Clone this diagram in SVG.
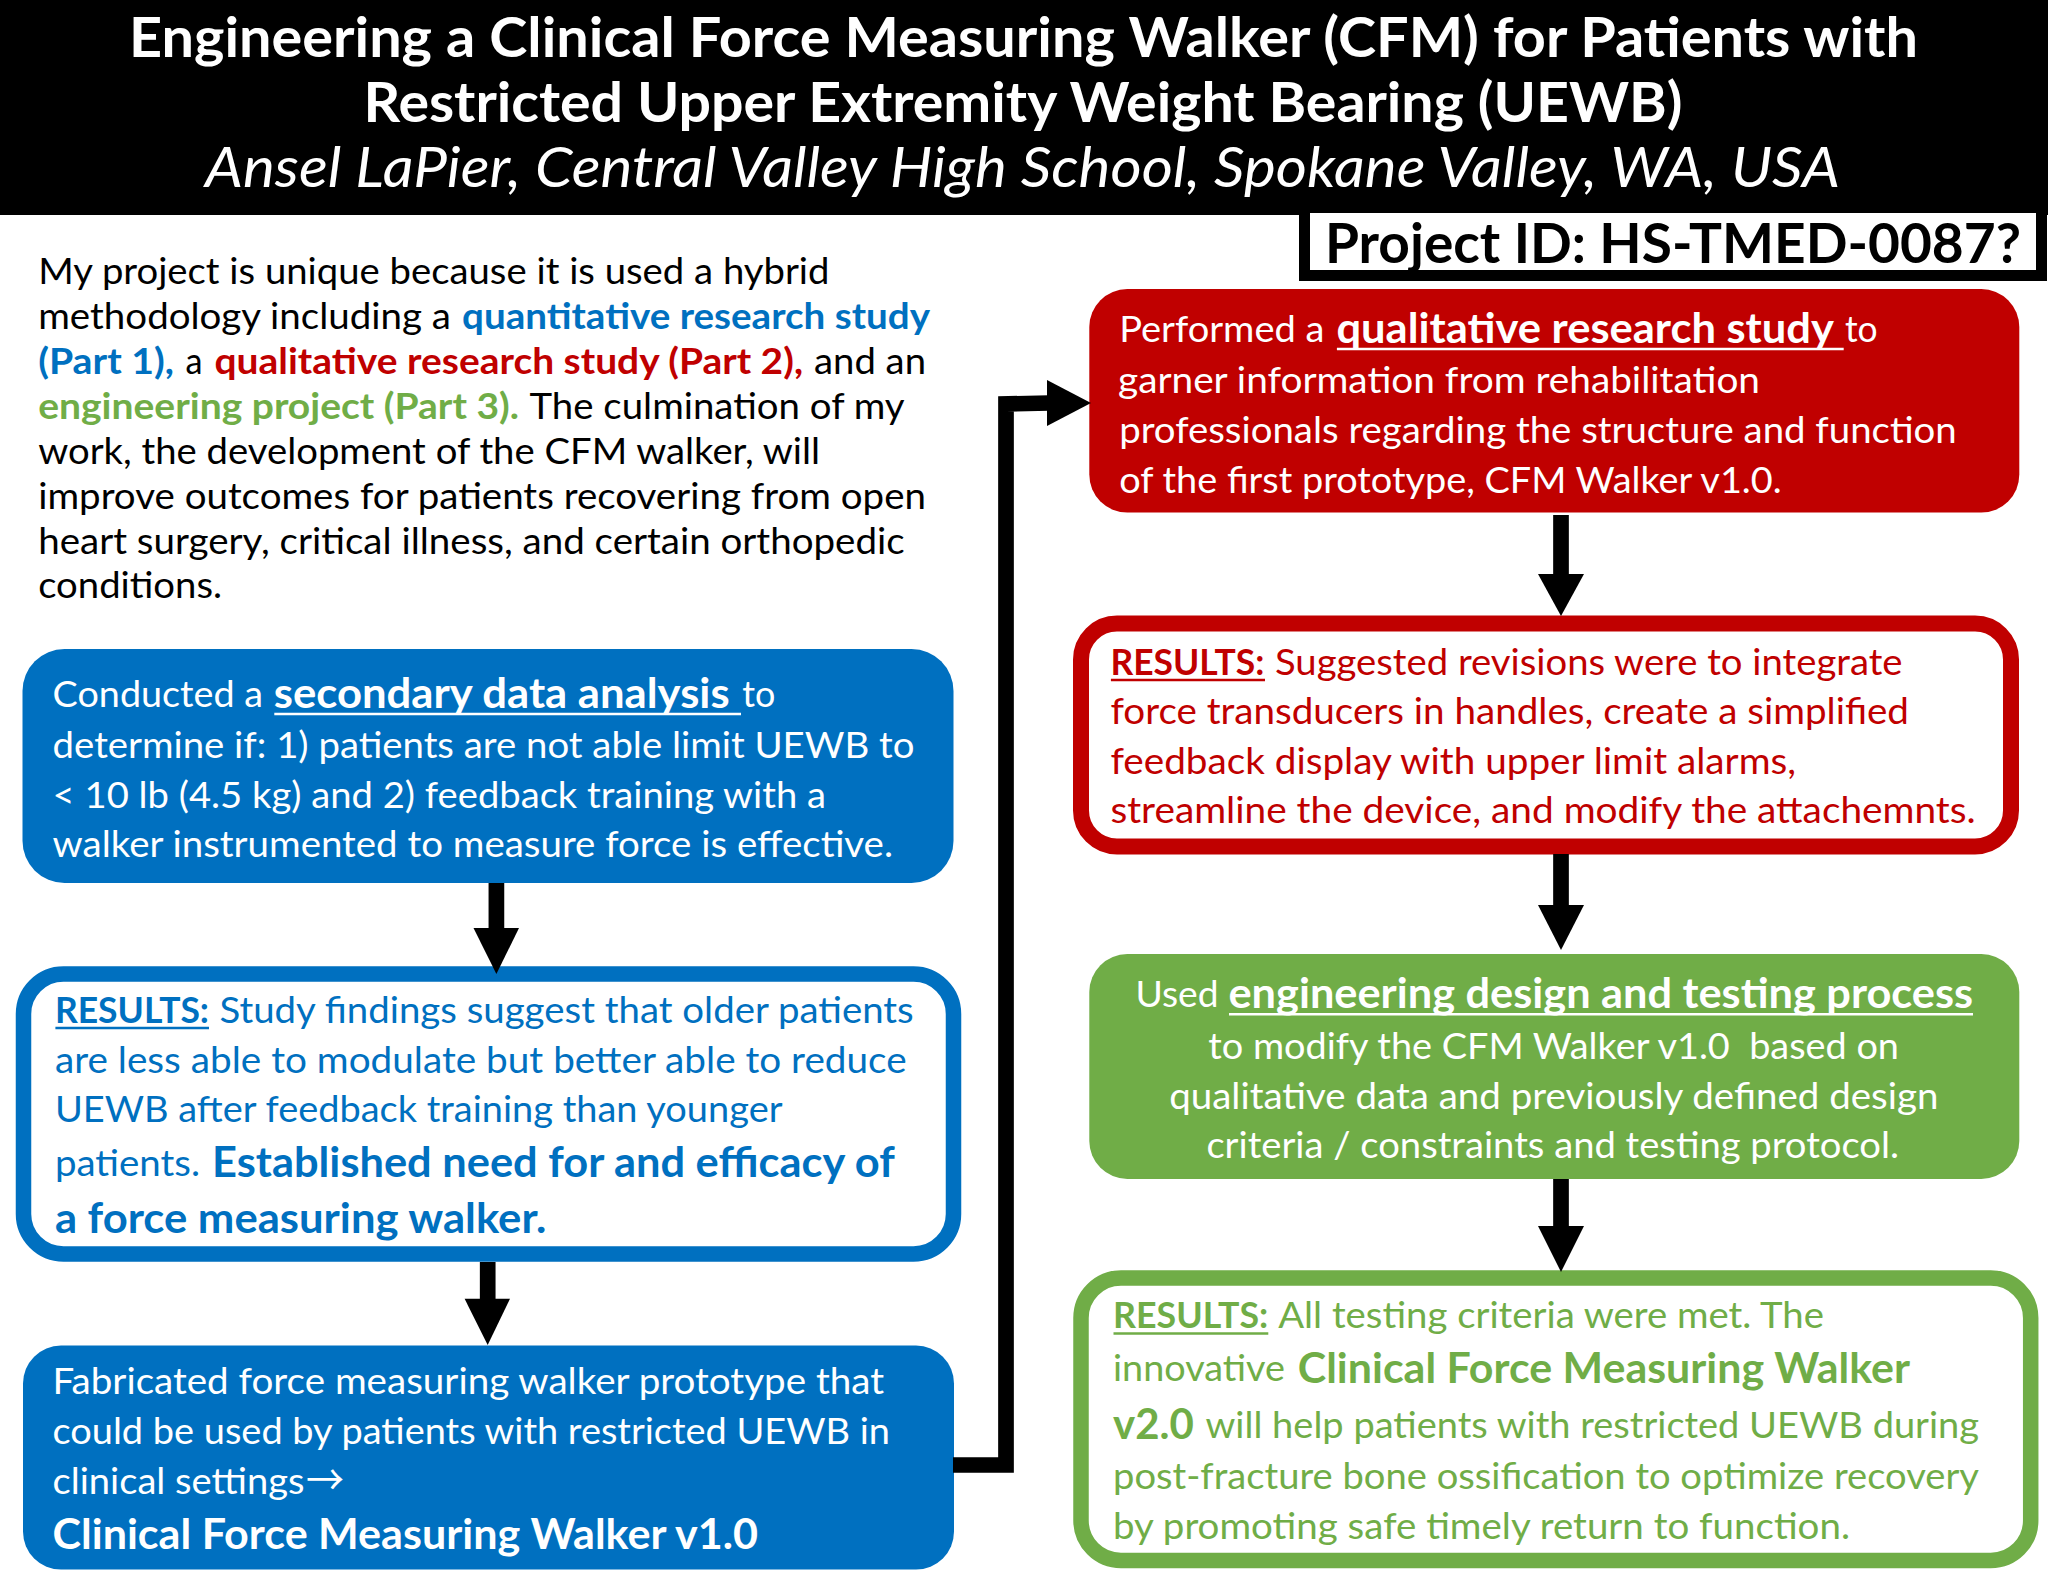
<svg xmlns="http://www.w3.org/2000/svg" width="2048" height="1582" viewBox="0 0 2048 1582">
<style>
text{font-family:Lato,"Liberation Sans",sans-serif;font-size:37px;fill:#000}
.b{font-weight:700;font-size:42px;transform:translateY(1px)}
.t{font-weight:700;font-size:56px;fill:#fff;transform:translateY(1.5px)}
.i{font-style:italic;font-size:56px;fill:#fff;transform:translateY(1px)}
.w{fill:#fff}.bl{fill:#0070C0}.r{fill:#C00000}.g{fill:#70AD47}
.ib{font-weight:700;font-size:37px}
.sym{font-family:"Noto Sans CJK SC",sans-serif;font-size:42px}
.ulw{stroke:#fff;stroke-width:2.6}.ulb{stroke:#0070C0;stroke-width:2.6}.ulr{stroke:#C00000;stroke-width:2.6}.ulg{stroke:#70AD47;stroke-width:2.6}
.shaft{fill:none;stroke:#000;stroke-width:15.7;stroke-linejoin:miter}
</style>
<rect width="2048" height="1582" fill="#fff"/>
<g id="header">
<rect width="2048" height="215" fill="#000"/>
<text class="t" x="129" y="55" textLength="1789" lengthAdjust="spacingAndGlyphs">Engineering a Clinical Force Measuring Walker (CFM) for Patients with</text>
<text class="t" x="363.5" y="120" textLength="1319" lengthAdjust="spacingAndGlyphs">Restricted Upper Extremity Weight Bearing (UEWB)</text>
<text class="i" x="205" y="186" textLength="1635" lengthAdjust="spacingAndGlyphs">Ansel LaPier, Central Valley High School, Spokane Valley, WA, USA</text>
</g>
<g id="project-id">
<rect x="1299" y="212" width="748" height="69" fill="#000"/>
<rect x="1310" y="213" width="726" height="57" fill="#fff"/>
<text class="t" style="fill:#000" x="1325" y="261" textLength="696" lengthAdjust="spacingAndGlyphs">Project ID: HS-TMED-0087?</text>
</g>
<g id="intro">
<text x="38.2" y="284" textLength="791.3" lengthAdjust="spacingAndGlyphs">My project is unique because it is used a hybrid</text>
<text x="38.2" y="329" textLength="412.8" lengthAdjust="spacingAndGlyphs">methodology including a</text>
<text class="ib bl" x="462" y="329" textLength="468" lengthAdjust="spacingAndGlyphs">quantitative research study</text>
<text class="ib bl" x="38.2" y="374" textLength="135.8" lengthAdjust="spacingAndGlyphs">(Part 1),</text>
<text x="185.5" y="374" textLength="17" lengthAdjust="spacingAndGlyphs">a</text>
<text class="ib r" x="214.5" y="374" textLength="588.5" lengthAdjust="spacingAndGlyphs">qualitative research study (Part 2),</text>
<text x="814" y="374" textLength="112" lengthAdjust="spacingAndGlyphs">and an</text>
<text class="ib g" x="38.2" y="418.5" textLength="480.8" lengthAdjust="spacingAndGlyphs">engineering project (Part 3).</text>
<text x="529.5" y="418.5" textLength="375.1" lengthAdjust="spacingAndGlyphs">The culmination of my</text>
<text x="38.2" y="463.5" textLength="781.8" lengthAdjust="spacingAndGlyphs">work, the development of the CFM walker, will</text>
<text x="38.2" y="508.5" textLength="887.8" lengthAdjust="spacingAndGlyphs">improve outcomes for patients recovering from open</text>
<text x="38.2" y="553.5" textLength="866.4" lengthAdjust="spacingAndGlyphs">heart surgery, critical illness, and certain orthopedic</text>
<text x="38.2" y="597.5" textLength="183.8" lengthAdjust="spacingAndGlyphs">conditions.</text>
</g>
<g id="n1">
<rect class="bl" x="22.5" y="649" width="931" height="234" rx="42"/>
<text class="w" x="52.6" y="707" textLength="210.4" lengthAdjust="spacingAndGlyphs">Conducted a</text>
<text class="b w" x="273.8" y="707" textLength="455.8" lengthAdjust="spacingAndGlyphs">secondary data analysis</text>
<line class="ulw" x1="274.3" y1="714" x2="741" y2="714"/>
<text class="w" x="742.2" y="707" textLength="33.1" lengthAdjust="spacingAndGlyphs">to</text>
<text class="w" x="52.6" y="757.5" textLength="861.8" lengthAdjust="spacingAndGlyphs">determine if: 1) patients are not able limit UEWB to</text>
<text class="w" x="52.6" y="807.5" textLength="773.4" lengthAdjust="spacingAndGlyphs">&lt; 10 lb (4.5 kg) and 2) feedback training with a</text>
<text class="w" x="52.6" y="857" textLength="840.4" lengthAdjust="spacingAndGlyphs">walker instrumented to measure force is effective.</text>
</g>
<g id="n2">
<rect x="23.5" y="974" width="930" height="280" rx="40" fill="#fff" stroke="#0070C0" stroke-width="15.5"/>
<text class="ib bl" x="54.9" y="1023" textLength="154.1" lengthAdjust="spacingAndGlyphs">RESULTS:</text>
<line class="ulb" x1="55.4" y1="1028" x2="209" y2="1028"/>
<text class="bl" x="219.5" y="1023" textLength="694.2" lengthAdjust="spacingAndGlyphs">Study findings suggest that older patients</text>
<text class="bl" x="54.9" y="1072.6" textLength="851.8" lengthAdjust="spacingAndGlyphs">are less able to modulate but better able to reduce</text>
<text class="bl" x="54.9" y="1121.7" textLength="727.6" lengthAdjust="spacingAndGlyphs">UEWB after feedback training than younger</text>
<text class="bl" x="54.9" y="1176" textLength="145.1" lengthAdjust="spacingAndGlyphs">patients.</text>
<text class="b bl" x="212.1" y="1176" textLength="682.6" lengthAdjust="spacingAndGlyphs">Established need for and efficacy of</text>
<text class="b bl" x="54.9" y="1232" textLength="491.4" lengthAdjust="spacingAndGlyphs">a force measuring walker.</text>
</g>
<g id="n3">
<rect class="bl" x="23" y="1345.6" width="931" height="224" rx="38"/>
<text class="w" x="52.5" y="1393.5" textLength="831.5" lengthAdjust="spacingAndGlyphs">Fabricated force measuring walker prototype that</text>
<text class="w" x="52.5" y="1443.5" textLength="837.5" lengthAdjust="spacingAndGlyphs">could be used by patients with restricted UEWB in</text>
<text class="w" x="52.5" y="1493.5" textLength="252" lengthAdjust="spacingAndGlyphs">clinical settings</text>
<text class="w sym" x="306" y="1495" textLength="38" lengthAdjust="spacingAndGlyphs">→</text>
<text class="b w" x="52.5" y="1547.8" textLength="705.5" lengthAdjust="spacingAndGlyphs">Clinical Force Measuring Walker v1.0</text>
</g>
<g id="n4">
<rect class="r" x="1089.3" y="289" width="930" height="223.6" rx="38"/>
<text class="w" x="1119.2" y="341.5" textLength="205.3" lengthAdjust="spacingAndGlyphs">Performed a</text>
<text class="b w" x="1336.4" y="341.5" textLength="497.6" lengthAdjust="spacingAndGlyphs">qualitative research study</text>
<line class="ulw" x1="1336.9" y1="349" x2="1843.7" y2="349"/>
<text class="w" x="1845" y="341.5" textLength="32.7" lengthAdjust="spacingAndGlyphs">to</text>
<text class="w" x="1118" y="392.8" textLength="642" lengthAdjust="spacingAndGlyphs">garner information from rehabilitation</text>
<text class="w" x="1119.2" y="442.5" textLength="837.5" lengthAdjust="spacingAndGlyphs">professionals regarding the structure and function</text>
<text class="w" x="1119.2" y="492.5" textLength="662.5" lengthAdjust="spacingAndGlyphs">of the first prototype, CFM Walker v1.0.</text>
</g>
<g id="n5">
<rect x="1081" y="623.5" width="930" height="223" rx="36" fill="#fff" stroke="#C00000" stroke-width="16"/>
<text class="ib r" x="1110.4" y="674.5" textLength="154" lengthAdjust="spacingAndGlyphs">RESULTS:</text>
<line class="ulr" x1="1110.9" y1="680" x2="1265" y2="680"/>
<text class="r" x="1275" y="674.5" textLength="627.5" lengthAdjust="spacingAndGlyphs">Suggested revisions were to integrate</text>
<text class="r" x="1110.4" y="723.8" textLength="798.6" lengthAdjust="spacingAndGlyphs">force transducers in handles, create a simplified</text>
<text class="r" x="1110.4" y="773.8" textLength="685.6" lengthAdjust="spacingAndGlyphs">feedback display with upper limit alarms,</text>
<text class="r" x="1110.4" y="823.2" textLength="865.3" lengthAdjust="spacingAndGlyphs">streamline the device, and modify the attachemnts.</text>
</g>
<g id="n6">
<rect class="g" x="1089.3" y="954" width="930" height="225" rx="38"/>
<text class="w" x="1135.5" y="1006.5" textLength="83.1" lengthAdjust="spacingAndGlyphs">Used</text>
<text class="b w" x="1228.5" y="1006.5" textLength="744.5" lengthAdjust="spacingAndGlyphs">engineering design and testing process</text>
<line class="ulw" x1="1229" y1="1014.3" x2="1973" y2="1014.3"/>
<text class="w" x="1208.3" y="1058.7" textLength="690.7" lengthAdjust="spacingAndGlyphs" xml:space="preserve">to modify the CFM Walker v1.0  based on</text>
<text class="w" x="1169.2" y="1108.7" textLength="769.2" lengthAdjust="spacingAndGlyphs">qualitative data and previously defined design</text>
<text class="w" x="1206.4" y="1157.8" textLength="692.6" lengthAdjust="spacingAndGlyphs">criteria / constraints and testing protocol.</text>
</g>
<g id="n7">
<rect x="1081" y="1278" width="949.7" height="282.5" rx="40" fill="#fff" stroke="#70AD47" stroke-width="15.5"/>
<text class="ib g" x="1113" y="1328" textLength="155.3" lengthAdjust="spacingAndGlyphs">RESULTS:</text>
<line class="ulg" x1="1113.5" y1="1333.5" x2="1268.3" y2="1333.5"/>
<text class="g" x="1278.2" y="1328" textLength="545.8" lengthAdjust="spacingAndGlyphs">All testing criteria were met. The</text>
<text class="g" x="1113" y="1381" textLength="172" lengthAdjust="spacingAndGlyphs">innovative</text>
<text class="b g" x="1297.8" y="1381.5" textLength="612.2" lengthAdjust="spacingAndGlyphs">Clinical Force Measuring Walker</text>
<text class="b g" x="1113" y="1438" textLength="80.8" lengthAdjust="spacingAndGlyphs">v2.0</text>
<text class="g" x="1205.5" y="1438" textLength="773.5" lengthAdjust="spacingAndGlyphs">will help patients with restricted UEWB during</text>
<text class="g" x="1113" y="1488.5" textLength="866" lengthAdjust="spacingAndGlyphs">post-fracture bone ossification to optimize recovery</text>
<text class="g" x="1113" y="1538.5" textLength="737" lengthAdjust="spacingAndGlyphs">by promoting safe timely return to function.</text>
</g>
<g id="connectors">
<path class="shaft" d="M496.4 883V930"/><polygon points="473.5,928 519,928 496.4,974"/>
<path class="shaft" d="M487.7 1262V1300"/><polygon points="464.6,1298.7 510,1298.7 487.7,1345"/>
<path class="shaft" d="M953 1465H1006V404L1049 403"/><polygon points="1047,380 1091,403 1047,426"/>
<path class="shaft" d="M1561 515V576"/><polygon points="1538,574 1584,574 1561,616"/>
<path class="shaft" d="M1561 854V907"/><polygon points="1538,905 1584,905 1561,950"/>
<path class="shaft" d="M1561 1179V1228"/><polygon points="1538,1226 1584,1226 1561,1272"/>
</g>
</svg>
